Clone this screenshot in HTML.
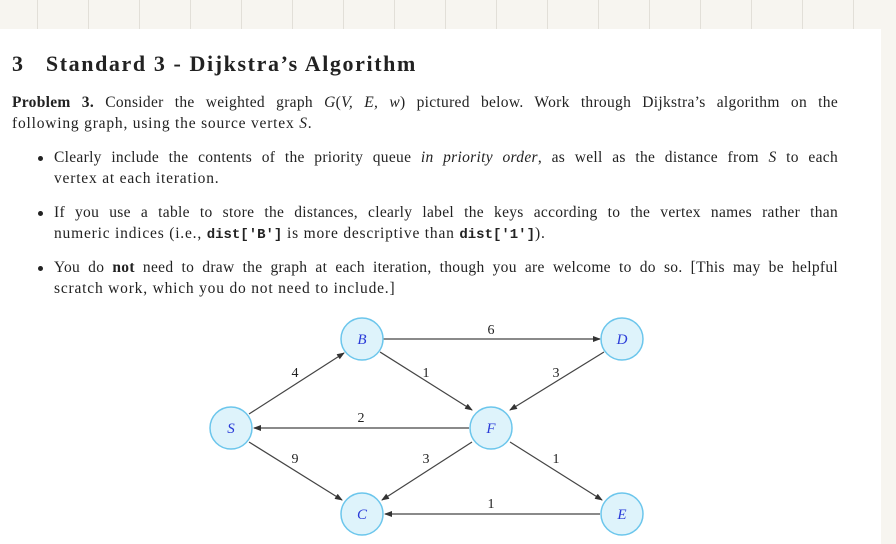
<!DOCTYPE html>
<html><head><meta charset="utf-8"><style>
body{margin:0;width:896px;height:544px;overflow:hidden;background:#f7f5f0;position:relative;font-family:"Liberation Serif",serif;color:#222}
.page{position:absolute;left:0;top:29px;width:881px;height:515px;background:#fff}
.gl{position:absolute;top:0;width:1px;height:29px;background:#e2dfd8}
.l{position:absolute;font-size:15.5px;line-height:20px;white-space:nowrap;letter-spacing:0.8px}
.j{text-align:justify;text-align-last:justify;white-space:normal;letter-spacing:0.3px}
.m{font-family:"Liberation Mono",monospace;font-size:14px;letter-spacing:0}
.b{position:absolute;left:38px;width:5px;height:5px;border-radius:50%;background:#222}
</style></head><body>
<div class="gl" style="left:37px"></div><div class="gl" style="left:88px"></div><div class="gl" style="left:139px"></div><div class="gl" style="left:190px"></div><div class="gl" style="left:241px"></div><div class="gl" style="left:292px"></div><div class="gl" style="left:343px"></div><div class="gl" style="left:394px"></div><div class="gl" style="left:445px"></div><div class="gl" style="left:496px"></div><div class="gl" style="left:547px"></div><div class="gl" style="left:598px"></div><div class="gl" style="left:649px"></div><div class="gl" style="left:700px"></div><div class="gl" style="left:751px"></div><div class="gl" style="left:802px"></div><div class="gl" style="left:853px"></div>
<div class="page"></div>
<div class="l" style="left:12px;top:51px;font-size:22px;line-height:26px;font-weight:bold;letter-spacing:1.6px">3&nbsp;&nbsp;&nbsp;Standard 3 - Dijkstra’s Algorithm</div>
<div class="l j" style="left:12px;top:93px;width:826px"><b>Problem 3.</b> Consider the weighted graph <i>G</i>(<i>V, E, w</i>) pictured below. Work through Dijkstra’s algorithm on the</div>
<div class="l" style="left:12px;top:114px">following graph, using the source vertex <i>S</i>.</div>
<div class="b" style="top:156px"></div>
<div class="l j" style="left:54px;top:148px;width:784px">Clearly include the contents of the priority queue <i>in priority order</i>, as well as the distance from <i>S</i> to each</div>
<div class="l" style="left:54px;top:169px">vertex at each iteration.</div>
<div class="b" style="top:211px"></div>
<div class="l j" style="left:54px;top:203px;width:784px">If you use a table to store the distances, clearly label the keys according to the vertex names rather than</div>
<div class="l" style="left:54px;top:224px">numeric indices (i.e., <b class="m">dist['B']</b> is more descriptive than <b class="m">dist['1']</b>).</div>
<div class="b" style="top:266px"></div>
<div class="l j" style="left:54px;top:258px;width:784px">You do <b>not</b> need to draw the graph at each iteration, though you are welcome to do so. [This may be helpful</div>
<div class="l" style="left:54px;top:279px">scratch work, which you do not need to include.]</div>
<svg style="position:absolute;left:0;top:0" width="896" height="544">
<defs><marker id="a" markerWidth="8" markerHeight="6" refX="7" refY="3" orient="auto" markerUnits="userSpaceOnUse"><path d="M0,0L8,3L0,6z" fill="#333"/></marker></defs>
<g stroke="#444" stroke-width="1.2" marker-end="url(#a)">
<line x1="249" y1="414" x2="344" y2="353"/>
<line x1="383" y1="339" x2="600" y2="339"/>
<line x1="380" y1="352" x2="472" y2="410"/>
<line x1="604" y1="352" x2="510" y2="410"/>
<line x1="469" y1="428" x2="254" y2="428"/>
<line x1="249" y1="442" x2="342" y2="500"/>
<line x1="472" y1="442" x2="382" y2="500"/>
<line x1="510" y1="442" x2="602" y2="500"/>
<line x1="600" y1="514" x2="385" y2="514"/>
</g>
<g fill="#def3fb" stroke="#6cc6ec" stroke-width="1.5">
<circle cx="231" cy="428" r="21"/><circle cx="362" cy="339" r="21"/><circle cx="622" cy="339" r="21"/>
<circle cx="491" cy="428" r="21"/><circle cx="362" cy="514" r="21"/><circle cx="622" cy="514" r="21"/>
</g>
<g fill="#2a3bd8" font-family="Liberation Serif,serif" font-style="italic" font-size="15" text-anchor="middle">
<text x="231" y="433">S</text><text x="362" y="344">B</text><text x="622" y="344">D</text>
<text x="491" y="433">F</text><text x="362" y="519">C</text><text x="622" y="519">E</text>
</g>
<g fill="#222" font-family="Liberation Serif,serif" font-size="14" text-anchor="middle">
<text x="491" y="334">6</text><text x="295" y="377">4</text><text x="426" y="377">1</text><text x="556" y="377">3</text>
<text x="361" y="422">2</text><text x="295" y="463">9</text><text x="426" y="463">3</text><text x="556" y="463">1</text>
<text x="491" y="508">1</text>
</g>
</svg>
</body></html>
